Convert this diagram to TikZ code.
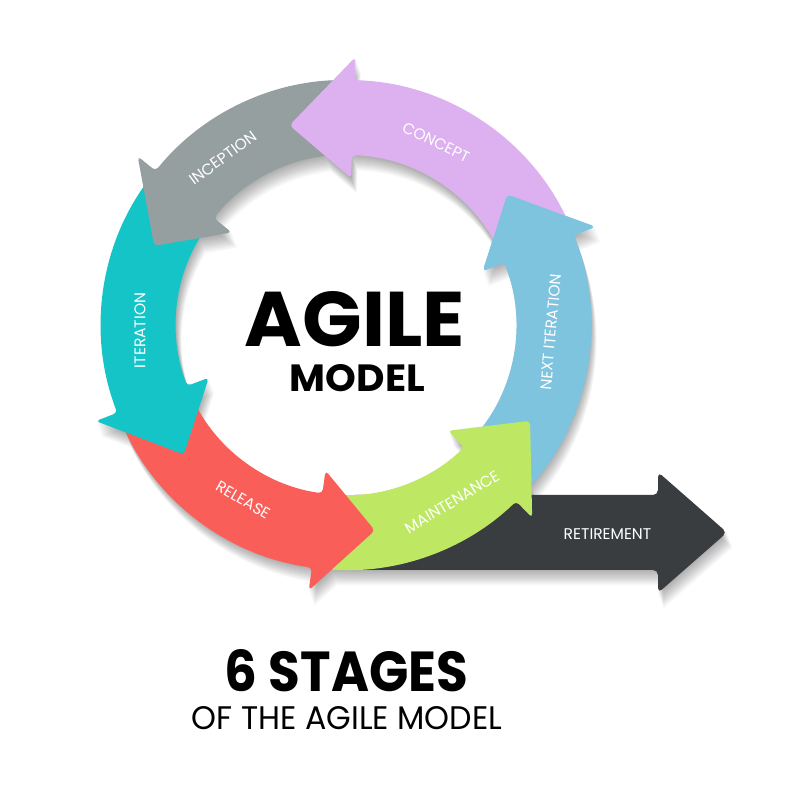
\documentclass[tikz,border=0pt]{standalone}
\usepackage{fontspec}
\usepackage{graphicx}
\setmainfont{Poppins}
\definecolor{cconcept}{RGB}{221,176,240}
\definecolor{cincep}{RGB}{150,159,159}
\definecolor{citer}{RGB}{20,196,198}
\definecolor{crel}{RGB}{250,94,88}
\definecolor{cmaint}{RGB}{190,232,100}
\definecolor{cnext}{RGB}{126,196,222}
\definecolor{cret}{RGB}{58,61,64}
% ring arrow: #1 colour, #2 tail angle, #3 head base angle, #4 tip angle
\newcommand\ringarrow[4]{%
  \fill[#1, rounded corners=4pt] (#2:245pt) arc[start angle=#2, end angle=#3, radius=245pt]
    -- (#3:268pt) -- (#4:207.5pt) -- (#3:147pt) -- (#3:170pt)
    arc[start angle=#3, end angle=#2, radius=170pt] -- cycle;}
\newcommand\headpath[2]{(#1:268pt) -- (#2:207.5pt) -- (#1:147pt) -- cycle}
\tikzset{
  lbl/.style={text=white, font=\fontsize{15.5}{16}\selectfont, inner sep=0pt},
  ttl/.style={text=black, inner sep=0pt}
}
\begin{document}
\begin{tikzpicture}[x=1pt,y=1pt]
\useasboundingbox (0,0) rectangle (800,801);
\fill[white] (0,0) rectangle (800,801);
\coordinate (C) at (346,476);
% soft shadow
\foreach \k in {1,...,14}{
  \begin{scope}[shift={(C)}, shift={(0.4*\k,-1.1*\k)}]
    \fill[black, opacity=0.022]
      (0:245pt) arc[start angle=0, end angle=360, radius=245pt] -- cycle
      (0:170pt) arc[start angle=360, end angle=0, radius=170pt] -- cycle
      \headpath{21.5}{39} \headpath{88}{105.8} \headpath{141}{157.6}
      \headpath{201}{218.6} \headpath{262}{278} \headpath{314}{332.5}
      (4,-245) -- (312,-245) -- (312,-268) -- (381,-207.5) -- (312,-147) -- (312,-170) -- (4,-170) -- cycle;
  \end{scope}
}
% retirement arrow
\fill[cret, rounded corners=5pt] (350,231) -- (658,231) -- (658,208) -- (727,268.5) -- (658,329) -- (658,306) -- (350,306) -- cycle;
\begin{scope}[shift={(C)}]
  \ringarrow{cnext}{-43}{21.5}{39}
  \ringarrow{cmaint}{265}{314}{332.5}
  \ringarrow{crel}{204}{262}{278}
  \ringarrow{citer}{144}{201}{218.6}
  \ringarrow{cincep}{91}{141}{157.6}
  \ringarrow{cconcept}{24.5}{88}{105.8}
  \fill[cnext, rounded corners=4pt] \headpath{21.5}{39};
\end{scope}
% stage labels
\node[lbl, rotate=36.5] (inception) at (223,643) {INCEPTION};
\node[lbl, rotate=-26] (concept) at (436,659) {CONCEPT};
\node[lbl, rotate=90] (iteration) at (140,470.5) {ITERATION};
\node[lbl, rotate=-30] (release) at (243,301) {RELEASE};
\node[lbl, rotate=31] (maintenance) at (452,299) {MAINTENANCE};
\node[lbl, rotate=85] (nextit) at (551,469) {NEXT ITERATION};
\node[lbl] (retirement) at (607.5,267) {RETIREMENT};
% titles
\node[ttl] (agile) at (355,481.5) {\resizebox{220pt}{55pt}{\bfseries AGILE}};
\node[ttl] (model) at (357.5,422.5) {\resizebox{135pt}{27pt}{\bfseries MODEL}};
\node[ttl] (stages) at (346.5,130) {\resizebox{243pt}{42pt}{\bfseries 6 STAGES}};
\node[ttl] (sub) at (347,82.5) {\resizebox{310pt}{23pt}{OF THE AGILE MODEL}};
\end{tikzpicture}
\end{document}
